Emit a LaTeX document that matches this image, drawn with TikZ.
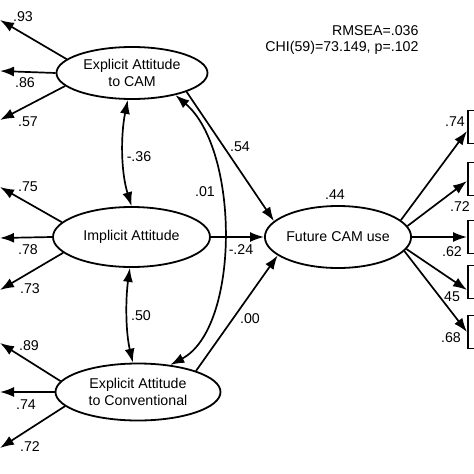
\documentclass[tikz,border=0pt]{standalone}
\usepackage{fontspec}
\setmainfont{Liberation Sans}
\usetikzlibrary{arrows.meta,shapes.geometric}
\begin{document}
\begin{tikzpicture}[x=1pt,y=-1pt,
  every node/.style={font=\fontsize{14.2}{17}\selectfont},
  lat/.style={ellipse,draw,line width=1.8pt,inner sep=0pt,align=center},
  obs/.style={rectangle,draw,line width=1.8pt,minimum width=30pt,minimum height=33pt,anchor=west,inner sep=0pt},
  arr/.style={line width=1.7pt,-{Latex[length=14pt,width=10pt]}},
  darr/.style={line width=1.7pt,{Latex[length=14pt,width=10pt]}-{Latex[length=14pt,width=10pt]}},
  lab/.style={inner sep=0pt}]
\useasboundingbox (0,0) rectangle (474,474);
% latent variables
\node[lat,minimum width=151pt,minimum height=52pt] (e1) at (132,73) {Explicit Attitude\\to CAM};
\node[lat,minimum width=157pt,minimum height=60pt] (e2) at (131.5,237) {Implicit Attitude};
\node[lat,minimum width=165pt,minimum height=57pt] (e3) at (138,392) {Explicit Attitude\\to Conventional};
\node[lat,minimum width=146pt,minimum height=62pt] (e4) at (338,237) {Future CAM use};
% observed boxes
\node[obs] (b1) at (467,127) {};
\node[obs] (b2) at (467,179) {};
\node[obs] (b3) at (467,237) {};
\node[obs] (b4) at (467,282) {};
\node[obs] (b5) at (467,332) {};
% fit text
\node[align=right,anchor=east,font=\fontsize{14.2}{16.5}\selectfont] (fit) at (422,40) {RMSEA=.036\\CHI(59)=73.149, p=.102};
% left free ends
\coordinate (l1) at (0,20);
\coordinate (l2) at (0,71);
\coordinate (l3) at (0,120);
\coordinate (l4) at (0,187);
\coordinate (l5) at (0,238);
\coordinate (l6) at (0,290);
\coordinate (l7) at (0,343);
\coordinate (l8) at (0,392);
\coordinate (l9) at (0,448);
\draw[arr] (e1.168) -- (l1);
\draw[arr] (e1.180) -- (l2);
\draw[arr] (e1.191) -- (l3);
\draw[arr] (e2.168) -- (l4);
\draw[arr] (e2.180) -- (l5);
\draw[arr] (e2.193) -- (l6);
\draw[arr] (e3.172) -- (l7);
\draw[arr] (e3.180) -- (l8);
\draw[arr] (e3.191) -- (l9);
\node[lab] (t1) at (23,17) {.93};
\node[lab] (t2) at (25,83) {.86};
\node[lab] (t3) at (28,122) {.57};
\node[lab] (t4) at (28,187) {.75};
\node[lab] (t5) at (28,250) {.78};
\node[lab] (t6) at (30,289) {.73};
\node[lab] (t7) at (29,346) {.89};
\node[lab] (t8) at (26,405) {.74};
\node[lab] (t9) at (30,447) {.72};
% correlations
\draw[darr] (e1.261) .. controls (120.7,135) and (120.7,171) .. (e2.90);
\draw[darr] (e2.267) .. controls (125.5,299) and (125.5,331) .. (e3.100);
\draw[darr] (e1.-27) .. controls (240,150) and (240,328) .. (e3.40);
\node[lab] (c1) at (139,157) {-.36};
\node[lab] (c2) at (141,316) {.50};
\node[lab] (c3) at (205,192) {.01};
% structural paths
\draw[arr] (e1.-19) -- (e4.166);
\draw[arr] (e2.east) -- (e4.west);
\draw[arr] (e3.20) -- (e4.197);
\node[lab] (p1) at (240,147) {.54};
\node[lab] (p2) at (241,250) {-.24};
\node[lab] (p3) at (250,319) {.00};
\node[lab] (r2) at (335,195) {.44};
% measurement of future CAM use
\draw[arr] (e4.15) -- ([yshift=-4pt]b1.west);
\draw[arr] (e4.9) -- ([yshift=-2pt]b2.west);
\draw[arr] (e4.east) -- (b3.west);
\draw[arr] (e4.-10) -- ([yshift=-8pt]b4.west);
\draw[arr] (e4.-12) -- (b5.west);
\node[lab] (m1) at (455,122) {.74};
\node[lab] (m2) at (460,207) {.72};
\node[lab] (m3) at (452,252) {.62};
\node[lab] (m4) at (452,297) {45};
\node[lab] (m5) at (451,338) {.68};
\end{tikzpicture}
\end{document}
